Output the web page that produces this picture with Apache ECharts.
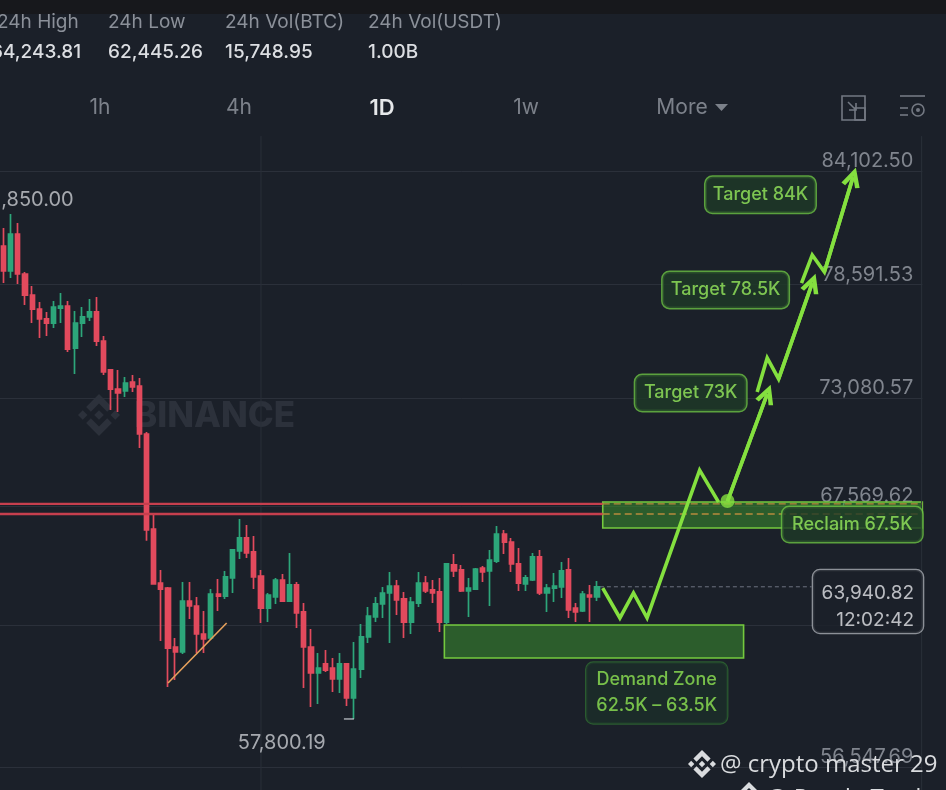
<!DOCTYPE html>
<html><head><meta charset="utf-8">
<style>html,body{margin:0;padding:0;background:#1b2029}#c{width:946px;height:790px}</style>
<script src="https://cdn.jsdelivr.net/npm/echarts@6/dist/echarts.min.js"></script>
</head><body><div id="c"></div>
<script>
// ---- candle data (price units)
const opens = [80470,79260,81050,79110,78090,77410,76930,76730,77460,77560,75520,76730,77030,77270,75860,74460,73530,73440,73870,73680,71350,66740,64120,63880,61020,60780,63250,63010,61650,61460,63590,63490,64370,65680,66310,65630,64460,62910,63450,64270,63250,64030,62720,61020,59760,60200,60000,59470,60200,58550,59950,61510,62480,63110,63640,63980,63350,62230,63150,64120,63790,63690,62230,65000,64760,63740,63830,64850,64710,65190,66500,66110,65050,64080,64270,65390,63640,63880,63930,64760,62910,62770,63540,63450];
const closes = [79260,81050,79110,78090,77410,76930,76730,77510,77560,75470,76730,77030,77270,75860,74360,73530,73340,73820,73630,71350,66700,64080,63830,60970,60780,63250,63010,61650,61410,63590,63490,64420,65730,66310,65580,64420,62910,63540,64270,63250,64030,62670,61020,59760,60000,59900,59470,60200,58550,59950,61510,62520,63110,63640,63980,63300,62230,63200,64120,63740,63640,62230,65050,64710,63740,63880,64800,64660,65240,66500,66110,65050,64120,64370,65390,63640,63880,63980,64710,62820,62720,63590,63450,63940.82];
const highs = [81340,82020,81590,79210,78530,77750,77270,77800,78190,77800,77320,77510,77900,78000,76100,74500,74460,74120,74210,74070,71450,67420,64760,63930,61460,64170,64170,63450,62770,63830,64320,64710,65730,67230,66940,66400,64760,63640,64370,64560,65580,64170,63150,61890,60730,60880,60490,60730,60250,61260,62140,62960,63450,63930,64660,64270,63690,63450,64660,64460,64270,64370,65100,65530,65000,64370,64850,64950,65730,66890,66700,66310,65820,64510,65580,65730,64080,64610,65140,65340,63150,63740,64030,64220];
const lows = [78680,78920,78630,77610,76730,76010,76100,76490,76730,75330,74260,76060,76830,75620,74210,72520,72420,73150,73390,70670,66170,64080,61310,59080,59420,60680,62380,60730,60730,61360,62770,63350,63640,65290,65340,63830,62190,62230,63110,63250,63250,61940,59030,58110,58260,59810,58840,58790,58160,57530,59520,61220,62230,62430,61220,62570,61460,61650,62960,63640,63150,61750,62140,64420,63690,62480,63790,64170,63010,65100,65530,64660,63740,63740,64220,63540,62720,63200,63400,62430,62230,62720,62230,63250];
const slotCount = 129;
const slots = Array.from({length: slotCount}, (_, i) => String(i));

// ---- price axis
const tickPrices = [84102.5, 78591.53, 73080.57, 67850, 62058.66, 55200];
const tickLabels = ['84,102.50', '78,591.53', '73,080.57', '67,569.62', '', '56,547.69'];
const currentPrice = 63940.82;

// ---- levels and drawn annotations, [bar index, price]
const resistanceLevels = [67960, 67470];
const trendLine = [[23.0, 59275], [31.2, 62185]];
const lowMarker = [[47.6, 57530], [49, 57530]];
const projectionPaths = [
  [[83.8,63880],[86.2,62430],[88.1,63640],[90,62430],[97.35,69600],[100,68050]],
  [[101.25,68100],[106.8,73290]],
  [[105.4,73390],[106.8,75040],[108.4,74020],[113.1,78670]],
  [[111.6,78670],[113.1,80030],[114.8,79210],[118.8,83810]]
];
const arrowedPaths = [1, 2, 3];
const reclaimPoint = [101.25, 68100];
const demandZone = [[61.65, 62090], [103.5, 60490]];
const reclaimZone = [[83.8, 68050], [128.5, 66790]];

const chipTexts = ['Target 84K', 'Target 78.5K', 'Target 73K', 'Reclaim 67.5K'];
const chipAnchors = [[105.86,82950],[100.98,78340],[96.1,73340],[118.7,66962]];
const chipSizes = [[110,36],[126,36],[111,36],[140,35]];
const demandText = 'Demand Zone\n62.5K – 63.5K';
const demandAnchor = [91.35, 58790];
const priceBoxText = '{a|63,940.82}\n{a|12:02:42}';
const priceBoxAnchor = [120.9, 63227];
const priceNotes = [{t:'57,800.19', p:[38.9,56380]}, {t:',850.00', p:[4.74,82710]}];

// ---- header text
const statNames = ['24h High','24h Low','24h Vol(BTC)','24h Vol(USDT)'];
const statValues = ['64,243.81','62,445.26','15,748.95','1.00B'];
const statX = [-3, 108, 225, 368];
const tabs = ['1h','4h','1D','1w','More'];
const tabX = [100, 239, 382, 526, 682];

const FONT = 'Inter, "Noto Sans", sans-serif';
const GREEN = '#84e03f';
const chevron = 'path://M5 0L10.5 13L8 14L5 6.5L2 14L-0.5 13Z';
const logoParts = [
  [[38.73,53.2],[63.32,28.62],[87.92,53.22],[102.22,38.91],[63.32,0],[24.42,38.9]],
  [[0,63.31],[14.3,49],[28.61,63.31],[14.3,77.61]],
  [[98,63.31],[112.3,49],[126.61,63.3],[112.3,77.62]],
  [[38.73,73.41],[63.32,98],[87.92,73.4],[102.23,87.69],[63.33,126.6],[24.42,87.72]],
  [[63.32,48.78],[77.83,63.3],[63.32,77.78],[48.81,63.28]]
];
function logo(x,y,size,fill,z){
  const k=size/126.61;
  return logoParts.map(part=>({type:'polygon',shape:{points:part.map(q=>[x+q[0]*k,y+q[1]*k])},style:{fill},z}));
}

function plainLine(data, style, z) {
  return {type:'line', xAxisIndex:1, data, symbol:'none', silent:true, animation:false, z:z||4, lineStyle:style};
}
function noteSeries(data, label, z) {
  return {type:'scatter', xAxisIndex:1, data, symbolSize:1, itemStyle:{color:'rgba(0,0,0,0)'}, silent:true, animation:false, z:z||12, label:Object.assign({show:true, position:'inside'}, label)};
}

const series = [];
series.push({
  type:'candlestick', xAxisIndex:0, barWidth:4.6, animation:false, z:3,
  data: opens.map((o,i)=>[o,closes[i],lows[i],highs[i]]),
  itemStyle:{color:'#2da67a',color0:'#e24a5d',borderColor:'#2da67a',borderColor0:'#e24a5d',borderWidth:1.7}
});
// vertical guide lines
series.push(plainLine([[36,85800],[36,54085]], {color:'#2a2f39',width:1}, 1));
series.push(plainLine([[128.4,85800],[128.4,54085]], {color:'#2a2f39',width:1}, 1));
// resistance levels
resistanceLevels.forEach(p=>{
  series.push(plainLine([[-1,p],[83.8,p]], {color:'#c63f4e',width:2.3}, 5));
  series.push(plainLine([[83.8,p],[128.5,p]], {color:'#b68a3c',width:1.4,type:[7,4]}, 7));
});
// current price
series.push(plainLine([[83.4,currentPrice],[113,currentPrice]], {color:'#6d7280',width:1,type:[4,3]}, 2));
series.push(plainLine(trendLine, {color:'#e6a05c',width:1.6}, 6));
series.push(plainLine(lowMarker, {color:'#c8ccd2',width:1.2}, 6));
// zones
[demandZone, reclaimZone].forEach(z=>{
  series.push({type:'line', xAxisIndex:1, data:[], silent:true, animation:false, z:4,
    markArea:{silent:true, animation:false, itemStyle:{color:'rgba(62,150,48,0.52)',borderColor:'#74c93e',borderWidth:1.6},
      data:[[{xAxis:z[0][0],yAxis:z[0][1]},{xAxis:z[1][0],yAxis:z[1][1]}]]}});
});
// projection
projectionPaths.forEach((path,i)=>{
  const s = plainLine(path, {color:GREEN,width:3.6,join:'miter'}, 9);
  if (arrowedPaths.includes(i)) {
    const a = path[path.length-2], b = path[path.length-1];
    s.markLine = {silent:true, animation:false, symbol:['none',chevron], symbolSize:[19,20],
      lineStyle:{color:GREEN,width:3.6,type:'solid'}, label:{show:false},
      data:[[{coord:a},{coord:b}]]};
  }
  series.push(s);
});
series.push({type:'scatter', xAxisIndex:1, data:[reclaimPoint], symbolSize:14, itemStyle:{color:GREEN}, silent:true, animation:false, z:10});
// chips
const chipData = chipTexts.map((t,i)=>({value:chipAnchors[i],
  label:{formatter:t,width:chipSizes[i][0],height:chipSizes[i][1],lineHeight:chipSizes[i][1]}}));
series.push(noteSeries(chipData, {color:'#96ea5c',fontFamily:FONT,fontWeight:500,fontSize:18,align:'center',verticalAlign:'middle',
  backgroundColor:'#1e3a27',borderColor:'#6bc244',borderWidth:1.5,borderRadius:7}));
series.push(noteSeries([{value:demandAnchor,label:{formatter:demandText}}], {color:'#8ee552',fontFamily:FONT,fontWeight:500,fontSize:18,lineHeight:26,
  width:141,height:61,align:'center',verticalAlign:'middle',backgroundColor:'#1b2e29',borderColor:'#2f6b32',borderWidth:1.2,borderRadius:7}));
series.push(noteSeries([{value:priceBoxAnchor,label:{formatter:priceBoxText}}], {width:110,height:53,padding:[10,0,0,0],
  backgroundColor:'#1b2029',borderColor:'#a9adb3',borderWidth:1.3,borderRadius:7,
  rich:{a:{color:'#e3e5e8',fontFamily:FONT,fontSize:19,lineHeight:27,align:'right',padding:[0,9,0,0]}}}, 13));
priceNotes.forEach(n=>series.push(noteSeries([n.p], {formatter:n.t,color:'#c9ccd1',fontFamily:FONT,fontSize:20})));

const graphic = [
  {type:'rect',shape:{x:0,y:0,width:946,height:14},style:{fill:'#17181c'},z:50},
  ...logo(78,394,42,'#2c313b',1),
  {type:'text',style:{text:'BINANCE',x:134,y:416,fill:'#2c313b',font:'800 35px '+FONT,textVerticalAlign:'middle'},z:1},
];
statNames.forEach((t,i)=>{
  graphic.push({type:'text',style:{text:t,x:statX[i],y:22,fill:'#8b9099',font:'19px '+FONT,textVerticalAlign:'middle'},z:50});
  graphic.push({type:'text',style:{text:statValues[i],x:i?statX[i]:-9,y:52,fill:'#dcdee2',font:'500 19px '+FONT,textVerticalAlign:'middle'},z:50});
});
tabs.forEach((t,i)=>{
  graphic.push({type:'text',style:{text:t,x:tabX[i],y:108,fill:t==='1D'?'#e6e8ea':'#7c818a',font:(t==='1D'?'600 22px ':'21px ')+FONT,textAlign:'center',textVerticalAlign:'middle'},z:50});
});
graphic.push({type:'polygon',shape:{points:[[715,104],[728,104],[721.5,111]]},style:{fill:'#7c818a'},z:50});
const ic={fill:'none',stroke:'#737882',lineWidth:1.6};
[[842,96,23,24],[855,108,10,12]].forEach(r=>graphic.push({type:'rect',shape:{x:r[0],y:r[1],width:r[2],height:r[3]},style:ic,z:50}));
graphic.push({type:'polyline',shape:{points:[[848,102],[856,110]]},style:ic,z:50});
graphic.push({type:'polyline',shape:{points:[[849,110],[856,110],[856,103]]},style:ic,z:50});
[[900,96,925,96],[900,108,908,108],[900,115,908,115]].forEach(l=>graphic.push({type:'line',shape:{x1:l[0],y1:l[1],x2:l[2],y2:l[3]},style:ic,z:50}));
graphic.push({type:'circle',shape:{cx:918,cy:110,r:6},style:ic,z:50});
graphic.push({type:'circle',shape:{cx:918,cy:110,r:2},style:{fill:'#737882'},z:50});
graphic.push(...logo(688,750,28,'#d9dbde',60));
graphic.push({type:'text',style:{text:'@ crypto master 29',x:720,y:765,fill:'#d9dbde',font:'24px "Open Sans", sans-serif',textVerticalAlign:'middle'},z:60});
graphic.push(...logo(736,782,26,'#d9dbde',60));
graphic.push({type:'text',style:{text:'@ Panda Trader',x:766,y:799,fill:'#d9dbde',font:'24px "Open Sans", sans-serif',textVerticalAlign:'middle'},z:60});

const chart = echarts.init(document.getElementById('c'), null, {renderer:'canvas'});
chart.setOption({
  animation:false,
  backgroundColor:'#1b2029',
  grid:{left:-2.585, top:0, width:924.93, height:790, containLabel:false},
  xAxis:[
    {type:'category', data:slots, show:false, boundaryGap:true},
    {type:'value', min:-0.5, max:slotCount-0.5, show:false}
  ],
  yAxis:{type:'value', position:'right', min:54085, max:92400, scale:false,
    axisLine:{show:false},
    axisTick:{show:false, customValues:tickPrices},
    splitLine:{show:true, lineStyle:{color:'#2b303a',width:1}},
    axisLabel:{inside:true, margin:9, customValues:tickPrices, verticalAlign:'bottom', lineHeight:20, color:'#80858e', fontFamily:FONT, fontSize:20,
      formatter:v=>{const i=tickPrices.indexOf(v);return i>=0?tickLabels[i]:''}}
  },
  graphic:{elements:graphic},
  series
});
</script></body></html>
